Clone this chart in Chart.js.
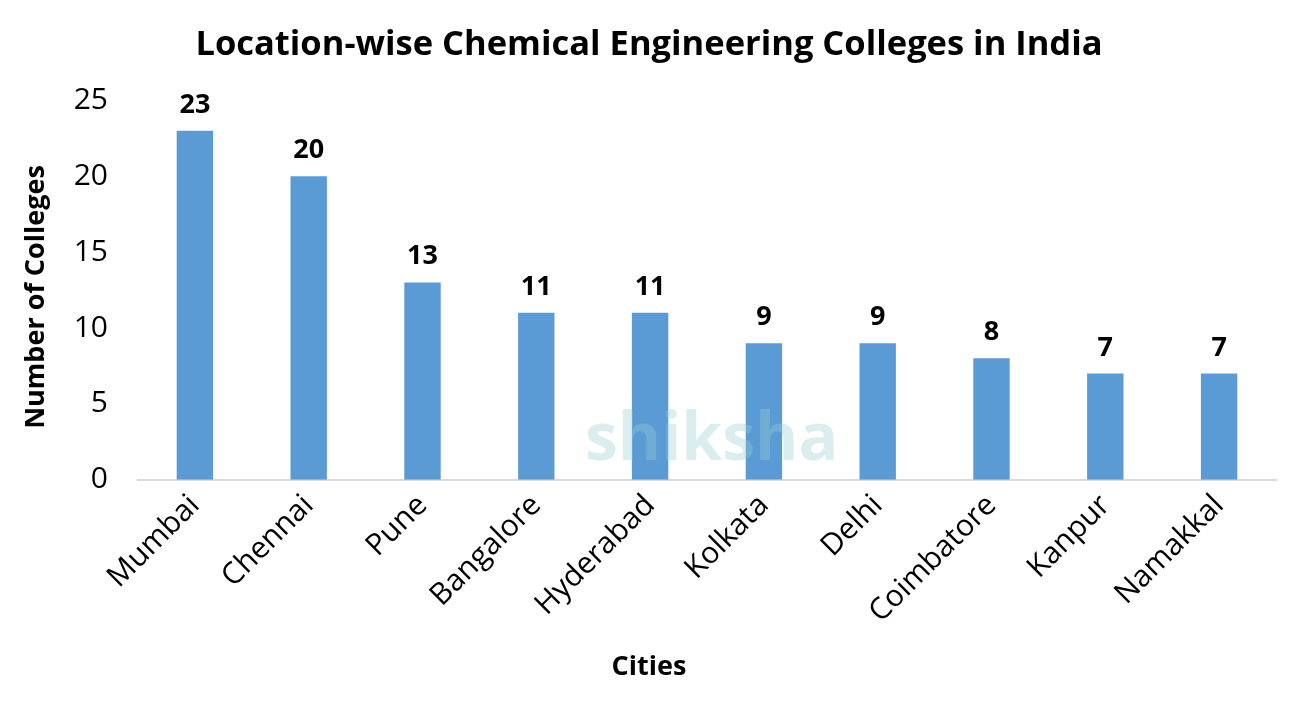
<!DOCTYPE html>
<html>
<head>
<meta charset="utf-8">
<script src="https://cdn.jsdelivr.net/npm/chart.js@4.4.1/dist/chart.umd.min.js"></script>
<style>
html,body{margin:0;padding:0;background:#fff;}
#wrap{width:1298px;height:717px;}
</style>
</head>
<body>
<div id="wrap"><canvas id="c" width="1298" height="717"></canvas></div>
<script>
const categories = ["Mumbai","Chennai","Pune","Bangalore","Hyderabad","Kolkata","Delhi","Coimbatore","Kanpur","Namakkal"];
const colleges = [23,20,13,11,11,9,9,8,7,7];
const yTicks = [0,5,10,15,20,25];
const xTitle = 'Cities';
const yTitle = 'Number of Colleges';

const FONT = "'Open Sans', Lato, sans-serif";

const labelPlugin = {
  id: 'valueLabels',
  afterDatasetsDraw(chart) {
    const ctx = chart.ctx;
    const meta = chart.getDatasetMeta(0);
    ctx.save();
    ctx.font = "bold 27px " + FONT;
    ctx.fillStyle = "#000";
    ctx.textAlign = "center";
    ctx.textBaseline = "alphabetic";
    meta.data.forEach((bar, i) => {
      ctx.fillText(String(colleges[i]), bar.x, bar.y - 18);
    });
    ctx.restore();
  }
};

const axisTitles = {
  id: 'axisTitles',
  afterDraw(chart) {
    const ctx = chart.ctx;
    ctx.save();
    ctx.font = "bold 27px " + FONT;
    ctx.fillStyle = "#000";
    ctx.textAlign = "center";
    ctx.textBaseline = "middle";
    ctx.fillText(xTitle, chart.width / 2, 667);
    ctx.translate(36, 297);
    ctx.rotate(-Math.PI / 2);
    ctx.fillText(yTitle, 0, 0);
    ctx.restore();
  }
};

const watermark = {
  id: 'watermark',
  afterDatasetsDraw(chart) {
    const ctx = chart.ctx;
    ctx.save();
    ctx.font = "bold 66px " + FONT;
    ctx.fillStyle = "rgba(150,205,210,0.35)";
    ctx.textAlign = "left";
    ctx.textBaseline = "alphabetic";
    ctx.fillText("shiksha", 585, 460);
    ctx.restore();
  }
};

new Chart(document.getElementById('c'), {
  type: 'bar',
  data: {
    labels: categories,
    datasets: [{
      data: colleges,
      backgroundColor: '#5B9BD5',
      barPercentage: 0.32,
      categoryPercentage: 1.0
    }]
  },
  plugins: [watermark, labelPlugin, axisTitles],
  options: {
    responsive: false,
    animation: false,
    devicePixelRatio: 1,
    layout: { padding: { top: 0, right: 22, bottom: 79, left: 22 } },
    plugins: {
      legend: { display: false },
      tooltip: { enabled: false },
      title: {
        display: true,
        text: 'Location-wise Chemical Engineering Colleges in India',
        font: { family: FONT, size: 34.5, weight: 'bold' },
        color: '#000',
        padding: { top: 24, bottom: 35 }
      }
    },
    scales: {
      x: {
        grid: { display: false, drawTicks: false },
        border: { display: true, color: '#D9D9D9', width: 2 },
        ticks: {
          font: { family: FONT, size: 30 },
          color: '#000',
          minRotation: 45,
          maxRotation: 45,
          padding: 8
        }
      },
      y: {
        min: 0,
        max: 25,
        afterBuildTicks(axis) { axis.ticks = yTicks.map(v => ({ value: v })); },
        afterFit(axis) { axis.width = 116; },
        grid: { display: false, drawTicks: false },
        border: { display: false },
        ticks: {
          font: { family: FONT, size: 30 },
          color: '#000',
          padding: 30
        }
      }
    }
  }
});
</script>
</body>
</html>
